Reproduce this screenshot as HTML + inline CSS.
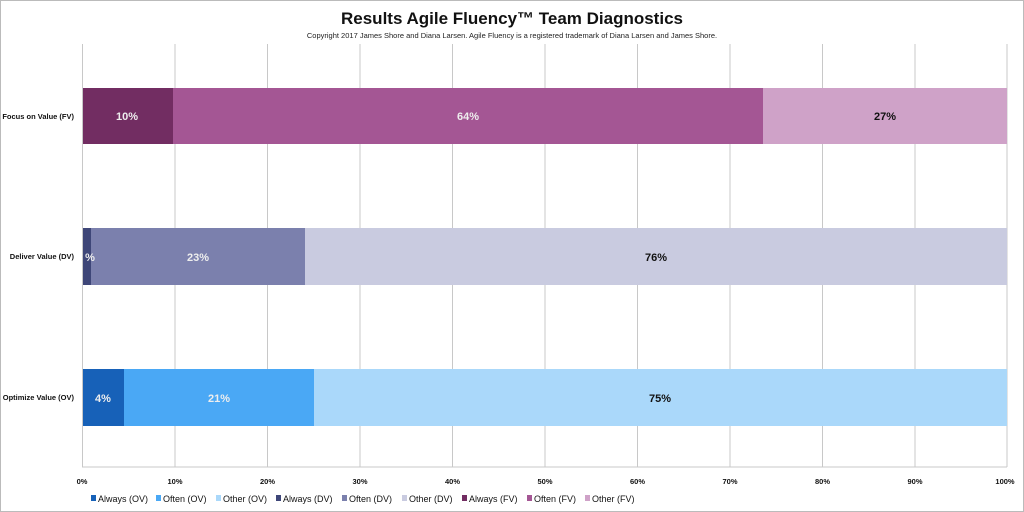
<!DOCTYPE html>
<html><head><style>
body{margin:0;background:#fff;}
svg{display:block;font-family:"Liberation Sans",sans-serif;}
</style></head><body>
<svg width="1024" height="512" xmlns="http://www.w3.org/2000/svg">
<rect x="0.5" y="0.5" width="1023" height="511" fill="#fff" stroke="#bbb"/>
<text x="512" y="24" text-anchor="middle" font-size="17" font-weight="bold" fill="#111">Results Agile Fluency™ Team Diagnostics</text>
<text x="512" y="38" text-anchor="middle" font-size="7.5" fill="#222">Copyright  2017 James Shore  and Diana Larsen. Agile Fluency is a registered trademark of Diana Larsen and James Shore.</text>
<g stroke="#c8c8c8" stroke-width="1">
<line x1="175" y1="44" x2="175" y2="467"/><line x1="267.5" y1="44" x2="267.5" y2="467"/><line x1="360" y1="44" x2="360" y2="467"/><line x1="452.5" y1="44" x2="452.5" y2="467"/><line x1="545" y1="44" x2="545" y2="467"/><line x1="637.5" y1="44" x2="637.5" y2="467"/><line x1="730" y1="44" x2="730" y2="467"/><line x1="822.5" y1="44" x2="822.5" y2="467"/><line x1="915" y1="44" x2="915" y2="467"/><line x1="1007" y1="44" x2="1007" y2="467"/>
<line x1="82.5" y1="44" x2="82.5" y2="467"/>
<line x1="82" y1="467" x2="1007" y2="467"/>
</g>
<rect x="83" y="88" width="90" height="56" fill="#722d62"/>
<rect x="173" y="88" width="590" height="56" fill="#a45694"/>
<rect x="763" y="88" width="244" height="56" fill="#cfa2c8"/>
<rect x="83" y="228" width="8" height="57" fill="#3e4678"/>
<rect x="91" y="228" width="214" height="57" fill="#7b80ad"/>
<rect x="305" y="228" width="702" height="57" fill="#c9cbe0"/>
<rect x="83" y="369" width="41" height="57" fill="#1761b8"/>
<rect x="124" y="369" width="190" height="57" fill="#4aa8f5"/>
<rect x="314" y="369" width="693" height="57" fill="#aad8fa"/>
<g font-size="11" font-weight="bold" text-anchor="middle">
<text x="127" y="120" fill="#eee">10%</text><text x="468" y="120" fill="#eee">64%</text><text x="885" y="120" fill="#111">27%</text>
<text x="90" y="261" fill="#eee">%</text><text x="198" y="261" fill="#eee">23%</text><text x="656" y="261" fill="#111">76%</text>
<text x="103" y="402" fill="#eee">4%</text><text x="219" y="402" fill="#eee">21%</text><text x="660" y="402" fill="#111">75%</text>
</g>
<g font-size="7.5" font-weight="bold" text-anchor="end" fill="#111">
<text x="74" y="119">Focus on Value (FV)</text>
<text x="74" y="259">Deliver Value (DV)</text>
<text x="74" y="400">Optimize Value (OV)</text>
</g>
<g font-size="7.5" font-weight="bold" text-anchor="middle" fill="#111">
<text x="82" y="484">0%</text><text x="175" y="484">10%</text><text x="267.5" y="484">20%</text><text x="360" y="484">30%</text><text x="452.5" y="484">40%</text><text x="545" y="484">50%</text><text x="637.5" y="484">60%</text><text x="730" y="484">70%</text><text x="822.5" y="484">80%</text><text x="915" y="484">90%</text><text x="1005" y="484">100%</text>
</g>
<g font-size="9" fill="#111">
<rect x="91" y="495" width="5" height="6" fill="#1761b8"/><text x="98" y="502">Always (OV)</text>
<rect x="156" y="495" width="5" height="6" fill="#4aa8f5"/><text x="163" y="502">Often (OV)</text>
<rect x="216" y="495" width="5" height="6" fill="#aad8fa"/><text x="223" y="502">Other (OV)</text>
<rect x="276" y="495" width="5" height="6" fill="#3e4678"/><text x="283" y="502">Always (DV)</text>
<rect x="342" y="495" width="5" height="6" fill="#7b80ad"/><text x="349" y="502">Often (DV)</text>
<rect x="402" y="495" width="5" height="6" fill="#c9cbe0"/><text x="409" y="502">Other (DV)</text>
<rect x="462" y="495" width="5" height="6" fill="#722d62"/><text x="469" y="502">Always (FV)</text>
<rect x="527" y="495" width="5" height="6" fill="#a45694"/><text x="534" y="502">Often (FV)</text>
<rect x="585" y="495" width="5" height="6" fill="#cfa2c8"/><text x="592" y="502">Other (FV)</text>
</g>
</svg>
</body></html>
